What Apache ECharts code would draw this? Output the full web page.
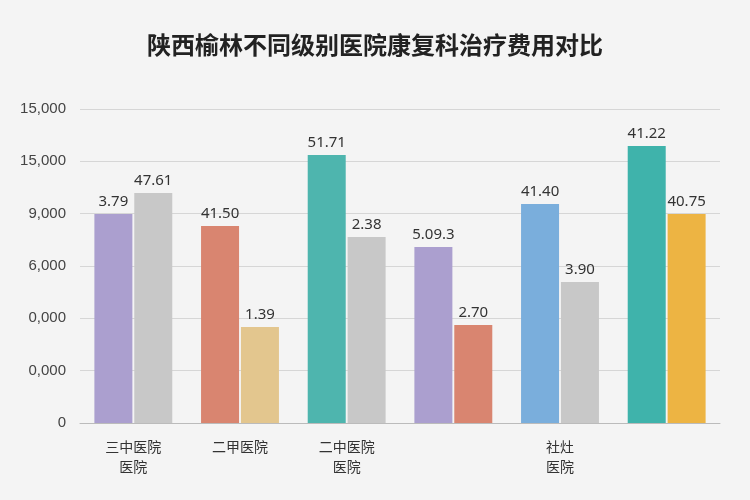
<!DOCTYPE html>
<html>
<head>
<meta charset="utf-8">
<script src="https://cdn.jsdelivr.net/npm/echarts@6/dist/echarts.min.js"></script>
<style>html,body{margin:0;background:#f4f4f4}#main{width:750px;height:500px}</style>
</head>
<body>
<div id="main"></div>
<script>
var categories=["三中医院\n医院","二甲医院","二中医院\n医院","","社灶\n医院",""];
var firstValues=[9990,9410,12800,8410,10460,13230];
var secondValues=[10990,4590,8890,4680,6740,9990];
var firstLabels=["3.79","41.50","51.71","5.09.3","41.40","41.22"];
var secondLabels=["47.61","1.39","2.38","2.70","3.90","40.75"];
var firstColors=["#ab9fcf","#d98570","#4eb5ae","#ab9fcf","#7aaedc","#3fb3ab"];
var secondColors=["#c8c8c8","#e3c68e","#c8c8c8","#d98570","#c8c8c8","#edb443"];
var tickLabels=["0","0,000","0,000","6,000","9,000","15,000","15,000"];

function build(values,labels,colors){
    return values.map(function(v,i){
        return {value:v,itemStyle:{color:colors[i]},label:{formatter:labels[i]}};
    });
}
var labelStyle={show:true,position:"top",fontSize:15,color:"#333",fontFamily:"Noto Sans"};
var chart=echarts.init(document.getElementById("main"));
chart.setOption({
    backgroundColor:"#f4f4f4",
    title:{text:"陕西榆林不同级别医院康复科治疗费用对比",left:"center",top:28,
        textStyle:{fontSize:24,fontWeight:"bold",color:"#222",fontFamily:"Noto Sans CJK SC"}},
    grid:{left:80,right:30,top:109,bottom:77},
    xAxis:{type:"category",data:categories,
        axisLine:{lineStyle:{color:"#bbb"}},axisTick:{show:false},
        axisLabel:{fontSize:14,color:"#333",lineHeight:20,margin:14,fontFamily:"Noto Sans CJK SC"}},
    yAxis:{type:"value",min:0,max:15000,interval:2500,
        axisLabel:{fontSize:15,color:"#444",margin:14,formatter:function(v){return tickLabels[Math.round(v/2500)];}},
        splitLine:{lineStyle:{color:"#d6d6d6"}},axisLine:{show:false}},
    series:[
        {type:"bar",data:build(firstValues,firstLabels,firstColors),barWidth:38,barGap:"5%",label:labelStyle},
        {type:"bar",data:build(secondValues,secondLabels,secondColors),barWidth:38,label:labelStyle}
    ]
});
</script>
</body>
</html>
